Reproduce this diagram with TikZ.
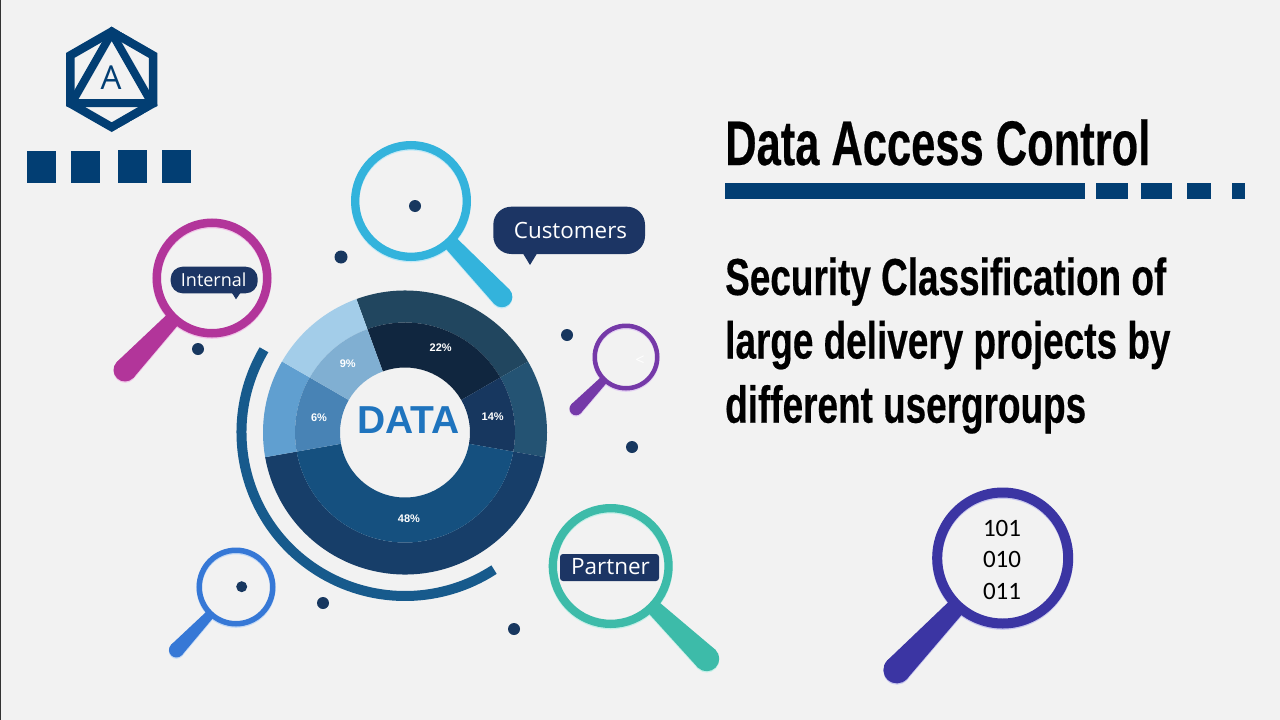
\documentclass[tikz,border=0pt]{standalone}
\usepackage{fontspec}
\setmainfont{Open Sans}
\newfontfamily\headfont[FakeStretch=0.71,BoldFeatures={FakeBold=0.35}]{Liberation Sans}
\newfontfamily\titlefont[FakeStretch=0.69,BoldFeatures={FakeBold=0.35}]{Liberation Sans}
\newfontfamily\arialf{Liberation Sans}
\newfontfamily\digitf{Carlito}
\definecolor{pagebg}{HTML}{F2F2F2}
\definecolor{navy}{HTML}{023E73}
\definecolor{bubble}{HTML}{1C3564}
\definecolor{dotc}{HTML}{17375F}
\definecolor{cyanM}{HTML}{33B3DC}\definecolor{cyanMS}{HTML}{C4E9F6}
\definecolor{magM}{HTML}{B2359A}\definecolor{magMS}{HTML}{F0C4E8}
\definecolor{purM}{HTML}{7539A8}\definecolor{purMS}{HTML}{E2CEF2}
\definecolor{bluM}{HTML}{3678D6}\definecolor{bluMS}{HTML}{C4DAF6}
\definecolor{teaM}{HTML}{3DBBA9}\definecolor{teaMS}{HTML}{C4F0E8}
\definecolor{indM}{HTML}{3B35A3}\definecolor{indMS}{HTML}{C8C8EE}
\definecolor{sa}{HTML}{21465F}\definecolor{sb}{HTML}{10263F}
\definecolor{sc}{HTML}{245373}\definecolor{sd}{HTML}{17375F}
\definecolor{se}{HTML}{173E69}\definecolor{sf}{HTML}{15507F}
\definecolor{sg}{HTML}{609FD0}\definecolor{sh}{HTML}{4883B5}
\definecolor{si}{HTML}{A3CDE9}\definecolor{sj}{HTML}{80AFD2}
\definecolor{arcc}{HTML}{175A8C}
\definecolor{datac}{HTML}{1F74BE}
\tikzset{
  dotmark/.style={fill=dotc,draw=none},
  navybox/.style={fill=navy,draw=none},
  pct/.style={text=white,font=\arialf\bfseries\fontsize{11}{11}\selectfont,inner sep=0},
  heading/.style={anchor=base west,inner sep=0,text=black,font=\headfont\bfseries\fontsize{52}{52}\selectfont},
  bubtext/.style={text=white,inner sep=0}
}
% #1 R outer, #2 stroke, #3 angle, #4 length, #5 w0, #6 w1, #7 colour
\newcommand\magshape[7]{%
  \draw[line width=#2pt,draw=#7] (0,0) circle ({#1-#2/2});
  \begin{scope}[rotate=#3]
    \fill[#7] ({#1-#2/2},{-#5/2}) -- (#4,{-#6/2}) -- (#4,{#6/2}) -- ({#1-#2/2},{#5/2}) -- cycle;
    \fill[#7] (#4,0) circle ({#6/2});
  \end{scope}}
% #1 cx, #2 cy, #3 R, #4 stroke, #5 angle, #6 L, #7 w0, #8 w1, #9 colour
\newcommand\maglass[9]{%
  \begin{scope}[shift={(#1,#2+1.3)}]\magshape{#3}{#4}{#5}{#6}{#7}{#8}{#9S}\end{scope}
  \begin{scope}[shift={(#1,#2)}]\magshape{#3}{#4}{#5}{#6}{#7}{#8}{#9}\end{scope}}
\newcommand\dseg[5]{%
  \fill[#5] (#1:#3) arc[start angle=#1,end angle=#2,radius=#3] -- (#2:#4) arc[start angle=#2,end angle=#1,radius=#4] -- cycle;}
\begin{document}
\begin{tikzpicture}[x=1pt,y=-1pt]
\useasboundingbox (0,0) rectangle (1280,720);
\fill[pagebg] (0,0) rectangle (1280,720);
\fill[black!80] (0,0) rectangle (1,720);
% logo
\begin{scope}
  \clip (111.7,26.7) -- (157.3,52.7) -- (157.3,106) -- (111.7,132) -- (66,106) -- (66,52.7) -- cycle;
  \draw[navy,line width=8.5pt,line join=miter] (111.7,31.6) -- (153,55.4) -- (153,103.4) -- (111.7,127.2) -- (70.3,103.4) -- (70.3,55.4) -- cycle;
  \draw[navy,line width=8pt,line join=miter] (111.7,33) -- (151.7,103) -- (71.7,103) -- cycle;
\end{scope}
\node[text=navy,font=\fontsize{33}{33}\selectfont,inner sep=0] (logoA) at (111,78) {A};
\fill[navybox] (27,150.7) rectangle (56,183.3);
\fill[navybox] (71,150.7) rectangle (100.3,183.3);
\fill[navybox] (117.7,150) rectangle (146.7,182.7);
\fill[navybox] (162.3,150) rectangle (191.3,182.7);
% dots
\foreach \px/\py/\pr in {341/257/6.5,198/349/6,567/335/6,632/447/6,514/629/6,415/206/6,241.7/586.7/5.5,323/603/6}
  \fill[dotmark] (\px,\py) circle (\pr);
% donut
\begin{scope}[shift={(405,432.5)},yscale=-1]
  \dseg{110}{30}{142}{110}{sa}
  \dseg{110}{30}{110}{65}{sb}
  \dseg{30}{-10}{142}{110}{sc}
  \dseg{30}{-10}{110}{65}{sd}
  \dseg{-10}{-170}{142}{110}{se}
  \dseg{-10}{-170}{110}{65}{sf}
  \dseg{190}{150}{142}{110}{sg}
  \dseg{190}{150}{110}{65}{sh}
  \dseg{150}{110}{142}{110}{si}
  \dseg{150}{110}{110}{65}{sj}
  \draw[arcc,line width=10pt] (149.6:163.5) arc[start angle=149.6,end angle=303,radius=163.5];
\end{scope}
\node[text=datac,font=\arialf\bfseries\fontsize{39}{39}\selectfont,inner sep=0] (data) at (408.5,420) {DATA};
\node[pct] (p22) at (440.7,348) {22\%};
\node[pct] (p9) at (347.7,364) {9\%};
\node[pct] (p6) at (319,418) {6\%};
\node[pct] (p14) at (492.7,416.7) {14\%};
\node[pct] (p48) at (409,519) {48\%};
% magnifiers
\maglass{411}{201}{60}{8.3}{-46.5}{132}{15}{21}{cyanM}
\maglass{212}{278}{59.5}{8.5}{-133.4}{126.6}{15}{23}{magM}
\maglass{626}{357}{33.5}{4.5}{-134}{72}{8}{13}{purM}
\maglass{236}{587}{39.5}{5.5}{-133.4}{86.7}{9}{15}{bluM}
\maglass{610.7}{566}{62}{8.3}{-44}{133.5}{15}{25}{teaM}
\maglass{1002.7}{558}{70.5}{10}{-133.4}{154}{18}{27}{indM}
% bubbles
\fill[bubble,rounded corners=18pt] (493.3,206.7) rectangle (645,254);
\fill[bubble] (522.7,253) -- (537.3,253) -- (530,265) -- cycle;
\node[bubtext,font=\fontsize{22.4}{22.4}\selectfont] (cust) at (570.5,230) {Customers};
\fill[bubble,rounded corners=12pt] (170.7,266.7) rectangle (257.7,293.3);
\fill[bubble] (231.7,292.5) -- (240.7,292.5) -- (236,299.3) -- cycle;
\node[bubtext,font=\fontsize{18}{18}\selectfont] (intl) at (213.7,279.5) {Internal};
\fill[bubble,rounded corners=3pt] (560,554) rectangle (659,581);
\node[bubtext,font=\fontsize{22.5}{22.5}\selectfont] (part) at (610.5,566.7) {Partner};
\node[text=white,font=\fontsize{16}{16}\selectfont,inner sep=0] (lt) at (640,361) {<};
% digits
\node[font=\digitf\fontsize{25}{25}\selectfont,inner sep=0] (d1) at (1002,528) {101};
\node[font=\digitf\fontsize{25}{25}\selectfont,inner sep=0] (d2) at (1002,559.5) {010};
\node[font=\digitf\fontsize{25}{25}\selectfont,inner sep=0] (d3) at (1002,591) {011};
% title
\node[heading,font=\titlefont\bfseries\fontsize{63}{63}\selectfont] (title) at (725,165) {Data Access Control};
\fill[navybox] (725,183) rectangle (1085.3,199.3);
\fill[navybox] (1096,183) rectangle (1127.7,199.3);
\fill[navybox] (1140.7,183) rectangle (1172.3,199.3);
\fill[navybox] (1187,183) rectangle (1210.5,199.3);
\fill[navybox] (1231.6,183) rectangle (1245,199.3);
\node[heading] (l1) at (725,295) {Security Classification of};
\node[heading] (l2) at (725,358.5) {large delivery projects by};
\node[heading] (l3) at (725,422.7) {different usergroups};
\end{tikzpicture}
\end{document}
